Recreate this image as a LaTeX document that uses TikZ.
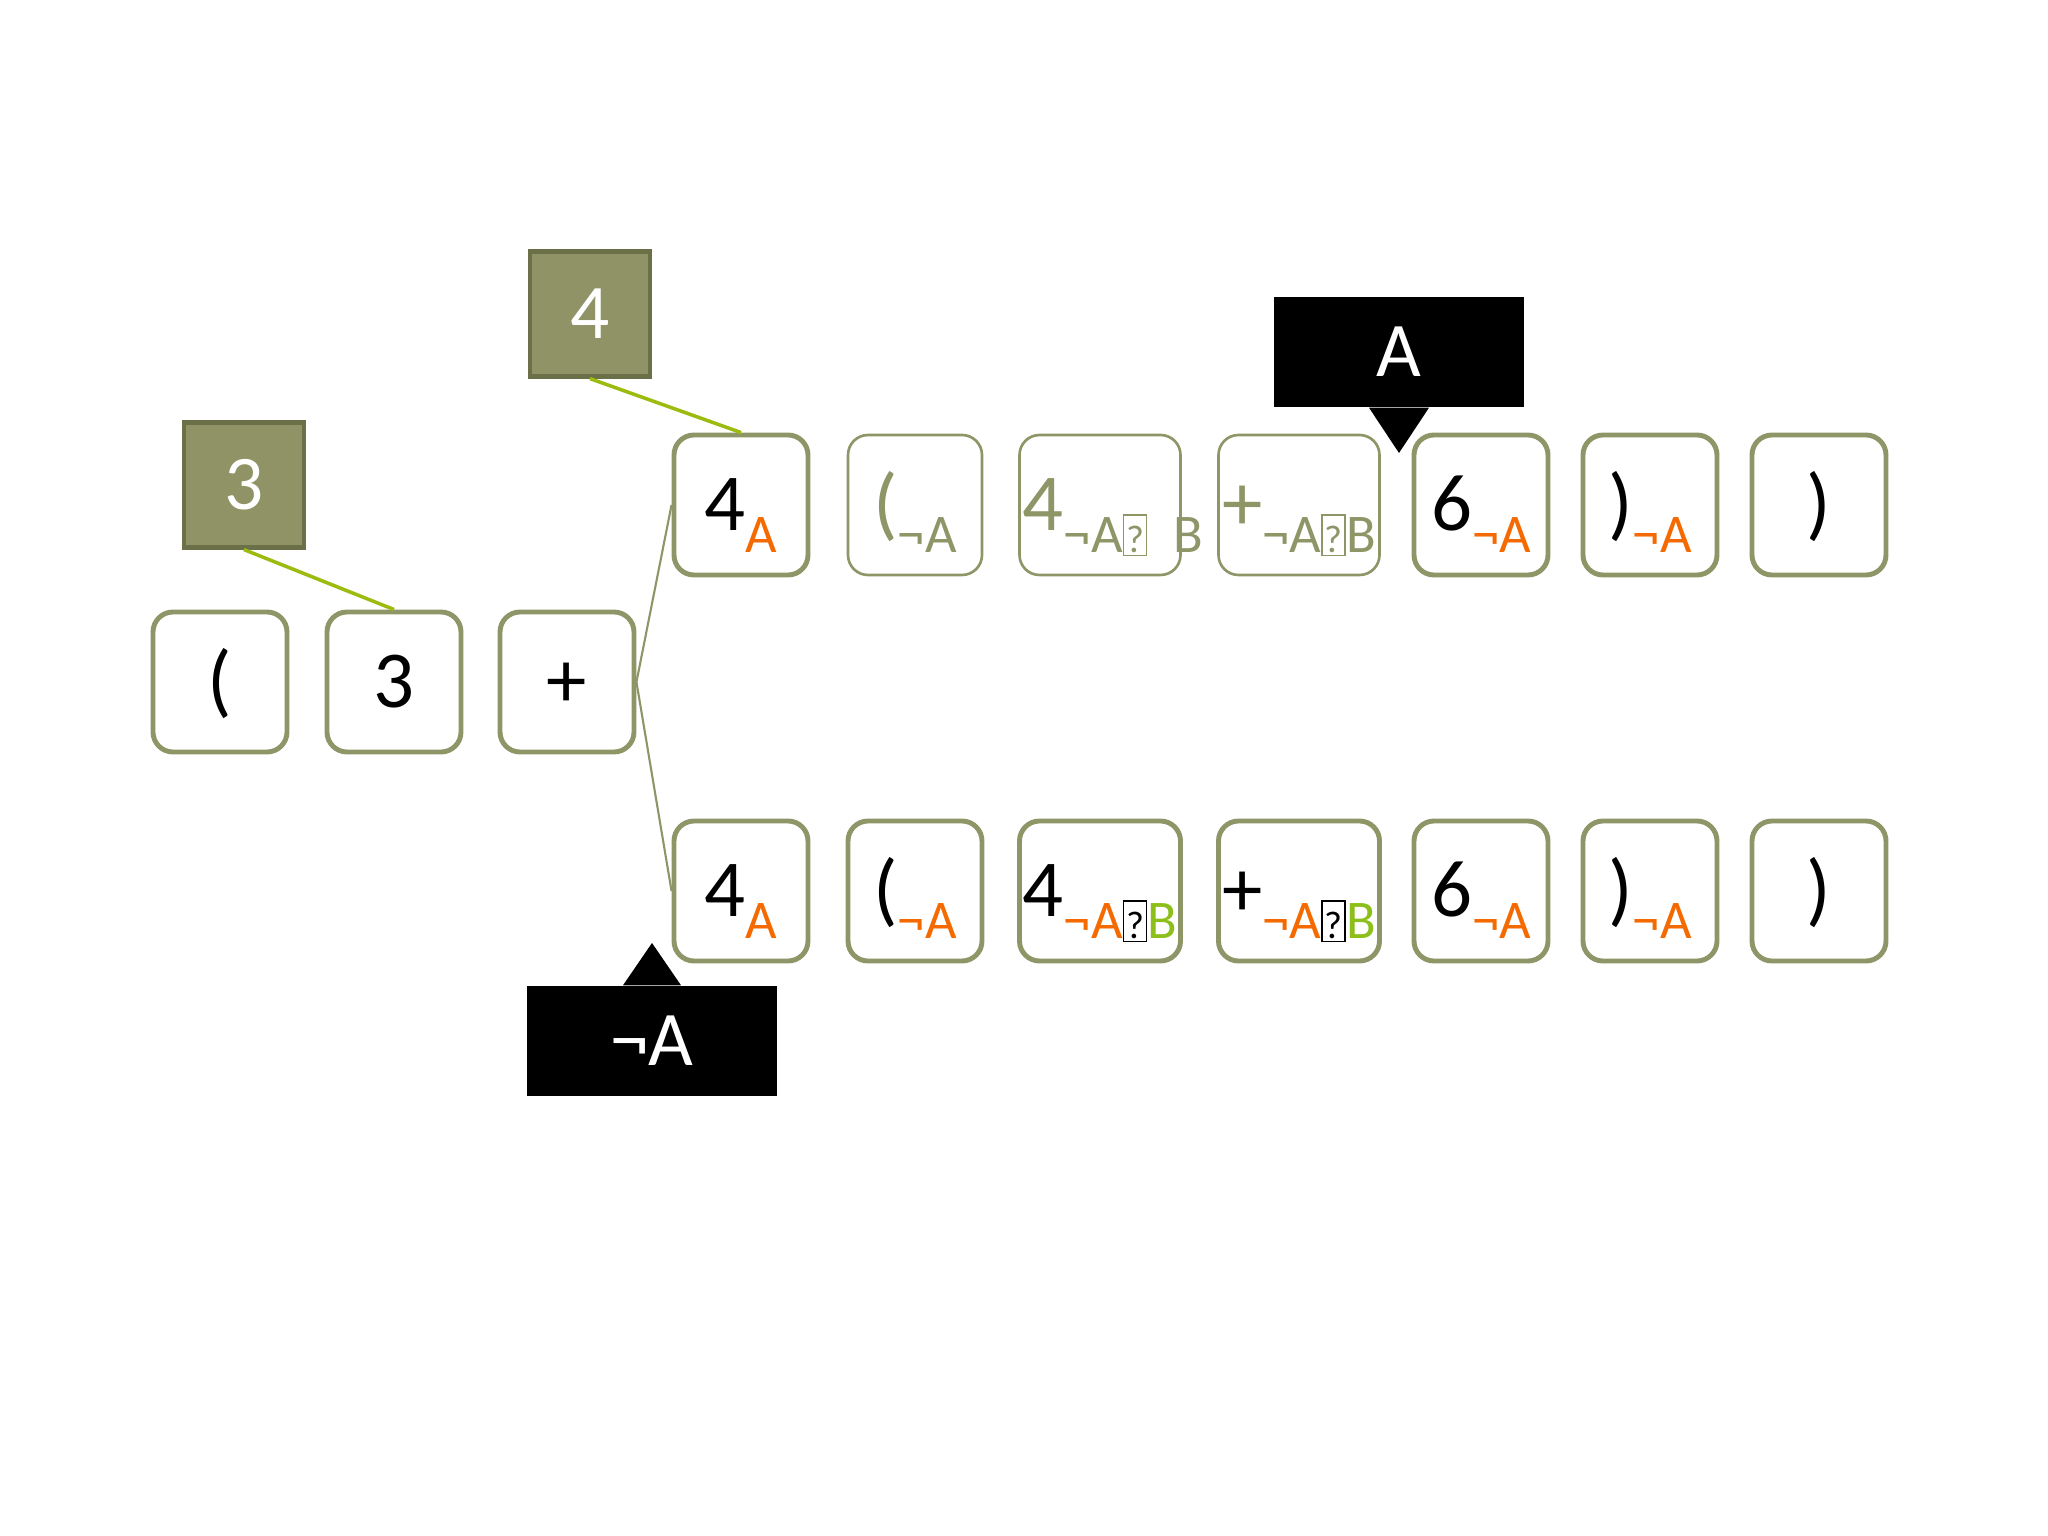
\documentclass[tikz,border=0pt]{standalone}
\usepackage{fontspec}
\setmainfont{Carlito}
\usepackage{xcolor}
\usepackage{tikz}
\usetikzlibrary{calc}
\definecolor{olive}{HTML}{8E9668}
\definecolor{oliveD}{HTML}{6B7048}
\definecolor{oliveF}{HTML}{8F9366}
\definecolor{lime}{HTML}{9BBB0F}
\definecolor{orng}{HTML}{F46A00}
\definecolor{grn}{HTML}{8DBF1A}
\newcommand{\sub}[1]{\raisebox{-2.2mm}{\fontsize{15.5pt}{16pt}\selectfont #1}}
\newcommand{\tofu}{{\setlength{\fboxsep}{0.5pt}\setlength{\fboxrule}{0.5pt}\fbox{\vphantom{A}\fontsize{11pt}{11pt}\selectfont ?}}}
\tikzset{
  tok/.style={draw=olive, line width=1.4pt, rounded corners=2mm, fill=white,
    minimum width=1.34cm, minimum height=1.40cm, inner sep=0pt,
    text height=17.3pt, text depth=2.7pt, font=\fontsize{23pt}{24pt}\selectfont},
  tokF/.style={tok, line width=0.75pt, text=olive},
  tokW/.style={minimum width=1.61cm},
  sq/.style={draw=oliveD, line width=1.2pt, fill=oliveF, text=white,
    minimum width=1.2cm, minimum height=1.25cm, font=\fontsize{22pt}{24pt}\selectfont},
  link/.style={draw=olive, line width=0.6pt},
  linkG/.style={draw=lime, line width=1pt},
  note/.style={fill=black, text=white, minimum width=2.5cm, minimum height=1.1cm,
    font=\fontsize{22pt}{24pt}\selectfont}
}
\begin{document}
\begin{tikzpicture}[x=1cm,y=-1cm]
  \fill[white] (0,0) rectangle (20.48,15.36);
  \useasboundingbox (0,0) rectangle (20.48,15.36);

  % input tokens
  \node[tok] (p1) at (2.20,6.82) {(};
  \node[tok] (p2) at (3.94,6.82) {3};
  \node[tok] (p3) at (5.67,6.82) {+};

  % branch A
  \node[tok]  (u1) at (7.41,5.05) {4\sub{\textcolor{orng}{A}}};
  \node[tokF] (u2) at (9.15,5.05) {(\sub{¬A}};
  \node[tokF,tokW] (u3) at (11.00,5.05) {4\sub{¬A\tofu\rlap{\hspace{2.6mm}B}\phantom{B}}};
  \node[tokF,tokW] (u4) at (12.99,5.05) {+\sub{¬A\tofu B}};
  \node[tok]  (u5) at (14.81,5.05) {6\sub{\textcolor{orng}{¬A}}};
  \node[tok]  (u6) at (16.50,5.05) {)\sub{\textcolor{orng}{¬A}}};
  \node[tok]  (u7) at (18.19,5.05) {)};

  % branch not A
  \node[tok] (d1) at (7.41,8.91) {4\sub{\textcolor{orng}{A}}};
  \node[tok] (d2) at (9.15,8.91) {(\sub{\textcolor{orng}{¬A}}};
  \node[tok,tokW] (d3) at (11.00,8.91) {4\sub{\textcolor{orng}{¬A}\tofu\textcolor{grn}{B}}};
  \node[tok,tokW] (d4) at (12.99,8.91) {+\sub{\textcolor{orng}{¬A}\tofu\textcolor{grn}{B}}};
  \node[tok] (d5) at (14.81,8.91) {6\sub{\textcolor{orng}{¬A}}};
  \node[tok] (d6) at (16.50,8.91) {)\sub{\textcolor{orng}{¬A}}};
  \node[tok] (d7) at (18.19,8.91) {)};

  \draw[link] (p3.east) -- (u1.west);
  \draw[link] (p3.east) -- (d1.west);

  % values
  \node[sq] (s3) at (2.44,4.85) {3};
  \node[sq] (s4) at (5.90,3.14) {4};
  \draw[linkG] (s3.south) -- (p2.north);
  \draw[linkG] (s4.south) -- (u1.north);

  % conditions
  \node[note] (nA) at (13.99,3.52) {A};
  \coordinate (tA) at (13.99,4.53);
  \fill ($(nA.south)+(-0.30,0)$) -- (tA) -- ($(nA.south)+(0.30,0)$) -- cycle;

  \node[note] (nN) at (6.52,10.41) {¬A};
  \coordinate (tN) at (6.52,9.43);
  \fill ($(nN.north)+(-0.29,0)$) -- (tN) -- ($(nN.north)+(0.29,0)$) -- cycle;
\end{tikzpicture}
\end{document}
